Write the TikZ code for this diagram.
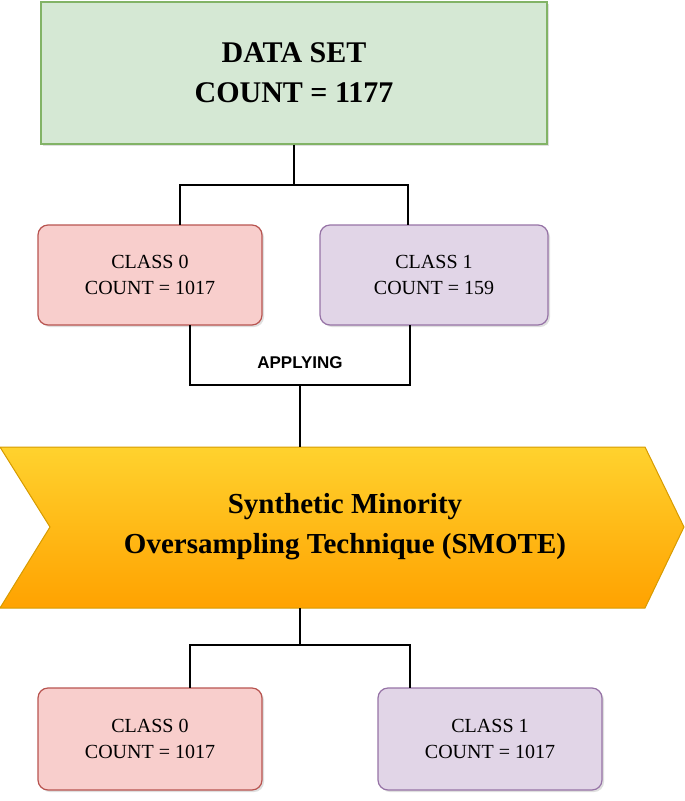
\documentclass[tikz,border=0pt]{standalone}
\usepackage{fontspec}
\setmainfont{Liberation Serif}
\setsansfont{Liberation Sans}
\usetikzlibrary{shadows}
\definecolor{gfill}{HTML}{D5E8D4}\definecolor{gline}{HTML}{82B366}
\definecolor{rfill}{HTML}{F8CECC}\definecolor{rline}{HTML}{B85450}
\definecolor{pfill}{HTML}{E1D5E7}\definecolor{pline}{HTML}{9673A6}
\definecolor{otop}{HTML}{FFD22E}\definecolor{obot}{HTML}{FFA200}\definecolor{oline}{HTML}{D79B00}
\begin{document}
\begin{tikzpicture}[x=1pt,y=-1pt,
  box/.style={draw,line width=1.2pt,drop shadow={opacity=0.25,shadow xshift=2pt,shadow yshift=-2pt},align=center,inner sep=0},
  cls/.style={box,rounded corners=10pt,minimum width=224pt,minimum height=100pt,font=\fontsize{20}{26}\selectfont},
  conn/.style={line width=2pt,black}]
\useasboundingbox (0,0) rectangle (685,801);
\node[box,fill=gfill,draw=gline,minimum width=506pt,minimum height=142pt,font=\fontsize{30}{40}\selectfont\bfseries] (ds) at (294,73) {DATA SET\\COUNT = 1177};
\node[cls,fill=rfill,draw=rline] (c0) at (150,275) {CLASS 0\\COUNT = 1017};
\node[cls,fill=pfill,draw=pline,minimum width=228pt] (c1) at (434,275) {CLASS 1\\COUNT = 159};
\node[cls,fill=rfill,draw=rline,minimum height=102pt] (d0) at (150,739) {CLASS 0\\COUNT = 1017};
\node[cls,fill=pfill,draw=pline,minimum height=102pt] (d1) at (490,739) {CLASS 1\\COUNT = 1017};
\path[draw=oline,line width=1pt,top color=otop,bottom color=obot]
  (0,447) -- (645,447) -- (684,527) -- (645,608) -- (0,608) -- (50,527) -- cycle;
\node[align=center,font=\fontsize{29}{40}\selectfont\bfseries] (sm) at (345,527) {Synthetic Minority\\Oversampling Technique (SMOTE)};
\coordinate (smt) at (300,447); \coordinate (smb) at (300,608);
\draw[conn] (ds.south) -- (294,185) -| (180,225);
\draw[conn] (294,185) -| (408,225);
\draw[conn] (190,325) |- (300,385) -| (410,325);
\draw[conn] (300,385) -- (smt);
\node[font=\sffamily\bfseries\fontsize{17}{20}\selectfont] (ap) at (300,363) {APPLYING};
\draw[conn] (smb) -- (300,645) -| (190,688);
\draw[conn] (300,645) -| (410,688);
\end{tikzpicture}
\end{document}
